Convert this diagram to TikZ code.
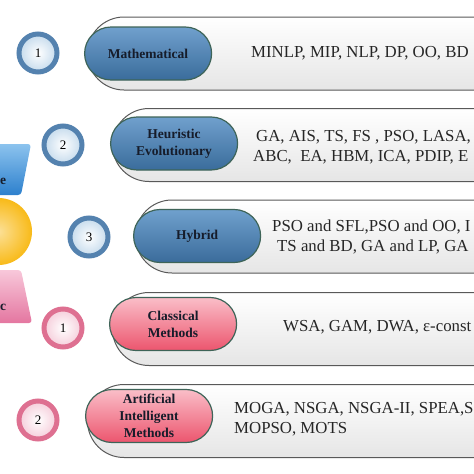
\documentclass[tikz,border=0pt]{standalone}
\usepackage{fontspec}
\setmainfont{Liberation Serif}
\usetikzlibrary{shapes,positioning}

\definecolor{blueTop}{RGB}{112,160,205}
\definecolor{blueBot}{RGB}{58,108,155}
\definecolor{pinkTop}{RGB}{250,190,200}
\definecolor{pinkBot}{RGB}{236,85,110}
\definecolor{pillborder}{RGB}{62,100,88}
\definecolor{pilltext}{RGB}{22,28,42}
\definecolor{ringblue}{RGB}{84,130,175}
\definecolor{numblue}{RGB}{196,218,236}
\definecolor{ringpink}{RGB}{222,112,145}
\definecolor{numpink}{RGB}{245,205,218}
\definecolor{trapblue}{RGB}{45,128,205}
\definecolor{trapbluetop}{RGB}{140,195,238}
\definecolor{trappink}{RGB}{228,118,160}
\definecolor{trappinktop}{RGB}{248,200,218}
\definecolor{ballyellow}{RGB}{248,186,24}

\begin{document}
\begin{tikzpicture}[x=1pt,y=-1pt,
    outerpill/.style={draw=black!65, line width=1pt,
        rounded rectangle, rounded rectangle right arc=none,
        minimum height=73pt, minimum width=420pt,
        top color=white, bottom color=black!10,
        anchor=west, inner sep=0},
    pill/.style={draw=pillborder, line width=1.2pt,
        rounded rectangle, minimum height=53pt, minimum width=127pt,
        align=center, text=pilltext, inner sep=0, anchor=west,
        font=\fontsize{13.5}{17}\selectfont\bfseries},
    bluepill/.style={pill, top color=blueTop, bottom color=blueBot},
    pinkpill/.style={pill, top color=pinkTop, bottom color=pinkBot},
    num/.style={circle, minimum size=38pt, line width=5pt,
        inner color=white, font=\fontsize{13}{13}\selectfont},
    bluenum/.style={num, draw=ringblue, outer color=numblue},
    pinknum/.style={num, draw=ringpink, outer color=numpink},
    items/.style={anchor=west, align=left, inner sep=0, text=black!85,
        font=\fontsize{16.8}{20}\selectfont}
]
\useasboundingbox (0,0) rectangle (474,474);
\clip (0,0) rectangle (474,474);

% Left side shapes
\shade[top color=trapbluetop, bottom color=trapblue, rounded corners=3pt]
    (-10,144) -- (31,144) -- (21,195) -- (-10,195) -- cycle;
\node[font=\fontsize{13.5}{17}\selectfont\bfseries, text=pilltext,
    inner sep=0] (lefttop) at (3,181) {e};
\shade[inner color=ballyellow!45!white, outer color=ballyellow]
    (-1.5,231.5) circle (33.5);
\shade[top color=trappinktop, bottom color=trappink, rounded corners=3pt]
    (-10,270) -- (21,270) -- (32,323) -- (-10,323) -- cycle;
\node[font=\fontsize{13.5}{17}\selectfont\bfseries, text=pilltext,
    inner sep=0] (leftbot) at (3,307) {c};

% Row 1
\node[bluenum] (n1) at (38,53) {1};
\node[outerpill] (o1) at (87,53.5) {};
\node[bluepill] (p1) at (84,53.5) {Mathematical};
\node[items] (t1) at (251,53) {MINLP, MIP, NLP, DP, OO, BD};

% Row 2
\node[bluenum] (n2) at (63,145) {2};
\node[outerpill] (o2) at (112,145) {};
\node[bluepill] (p2) at (110,143.5) {Heuristic\\Evolutionary};
\node[items] (t2) at (253,147) {\hspace*{3pt}GA, AIS, TS, FS , PSO, LASA,\\ABC,\ \ EA, HBM, ICA, PDIP, E};

% Row 3
\node[bluenum] (n3) at (89,237) {3};
\node[outerpill] (o3) at (135,236.5) {};
\node[bluepill] (p3) at (133,236) {Hybrid};
\node[items] (t3) at (272,237) {PSO and SFL,PSO and OO, I\\\hspace*{5pt}TS and BD, GA and LP, GA};

% Row 4
\node[pinknum] (n4) at (63,328) {1};
\node[outerpill] (o4) at (112,329) {};
\node[pinkpill] (p4) at (109,324) {Classical\\Methods};
\node[items] (t4) at (283,327) {WSA, GAM, DWA, ε-const};

% Row 5
\node[pinknum] (n5) at (38,420) {2};
\node[outerpill] (o5) at (87,421) {};
\node[pinkpill] (p5) at (85,416) {Artificial\\Intelligent\\Methods};
\node[items] (t5) at (234,419) {MOGA, NSGA, NSGA-II, SPEA,S\\MOPSO, MOTS};

\end{tikzpicture}
\end{document}
